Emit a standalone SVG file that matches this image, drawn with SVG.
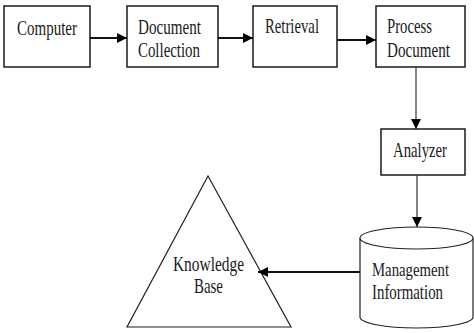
<svg xmlns="http://www.w3.org/2000/svg" width="474" height="333" viewBox="0 0 474 333">
<style>
.box{fill:#fff;stroke:#1a1a1a;stroke-width:1.5}
.shape{fill:#fff;stroke:#222;stroke-width:1.2}
.t{font-family:"Liberation Serif","Times New Roman",serif;font-size:21px;fill:#1a1a1a}
.s{font-size:19px}
.c{fill:none;stroke:#111;stroke-width:2}
.v{fill:none;stroke:#333;stroke-width:1.2}
</style>
<defs>
<marker id="ah" viewBox="0 0 10 10" refX="10" refY="5" markerWidth="10" markerHeight="10" markerUnits="userSpaceOnUse" orient="auto">
<path d="M0,0 L10,5 L0,10 z" fill="#000"/>
</marker>
</defs>
<rect width="474" height="333" fill="#fff"/>
<g id="computer">
<rect class="box" x="4" y="6" width="86" height="61"/>
<text class="t" x="17" y="35" textLength="60" lengthAdjust="spacingAndGlyphs">Computer</text>
</g>
<g id="document-collection">
<rect class="box" x="127" y="6" width="91" height="61"/>
<text class="t" x="138" y="34" textLength="63" lengthAdjust="spacingAndGlyphs">Document</text>
<text class="t" x="138" y="57" textLength="62" lengthAdjust="spacingAndGlyphs">Collection</text>
</g>
<g id="retrieval">
<rect class="box" x="253" y="6" width="84" height="61"/>
<text class="t" x="265" y="33" textLength="54" lengthAdjust="spacingAndGlyphs">Retrieval</text>
</g>
<g id="process-document">
<rect class="box" x="376" y="6" width="89" height="61"/>
<text class="t" x="387" y="33" textLength="45" lengthAdjust="spacingAndGlyphs">Process</text>
<text class="t" x="387" y="57" textLength="63" lengthAdjust="spacingAndGlyphs">Document</text>
</g>
<g id="analyzer">
<rect class="box" x="381" y="129" width="84" height="46"/>
<text class="t" x="393" y="157" textLength="54" lengthAdjust="spacingAndGlyphs">Analyzer</text>
</g>
<g id="management-information">
<path class="shape" d="M360,238 L360,317 A56.5,11 0 0 0 473,317 L473,238"/>
<ellipse class="shape" cx="416.5" cy="238" rx="56.5" ry="11"/>
<text class="t s" x="372" y="276" textLength="77" lengthAdjust="spacingAndGlyphs">Management</text>
<text class="t" x="372" y="299" textLength="71" lengthAdjust="spacingAndGlyphs">Information</text>
</g>
<g id="knowledge-base">
<polygon class="shape" points="208,176 291,327 127,327"/>
<text class="t" x="173" y="271" textLength="71" lengthAdjust="spacingAndGlyphs">Knowledge</text>
<text class="t" x="194" y="293" textLength="29" lengthAdjust="spacingAndGlyphs">Base</text>
</g>
<g id="connectors">
<line class="c" x1="90" y1="38" x2="127" y2="38" marker-end="url(#ah)"/>
<line class="c" x1="218" y1="38" x2="253" y2="38" marker-end="url(#ah)"/>
<line class="c" x1="337" y1="40" x2="376" y2="40" marker-end="url(#ah)"/>
<line class="v" x1="416" y1="67" x2="416" y2="129" marker-end="url(#ah)"/>
<line class="v" x1="417" y1="175" x2="417" y2="227" marker-end="url(#ah)"/>
<line class="c" x1="360" y1="272" x2="258" y2="272" marker-end="url(#ah)"/>
</g>
</svg>
